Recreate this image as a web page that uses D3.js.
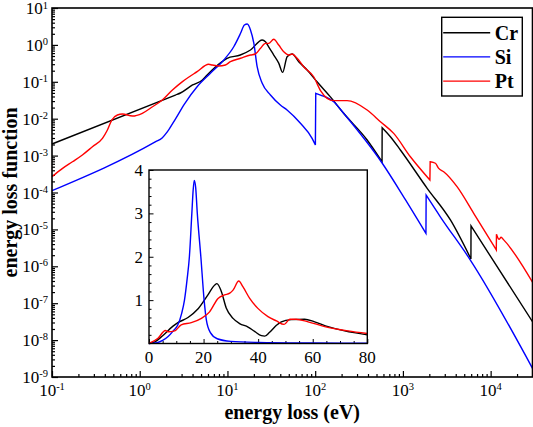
<!DOCTYPE html>
<html>
<head>
<meta charset="utf-8">
<script src="https://cdn.jsdelivr.net/npm/d3@7"></script>
<style>
body { margin: 0; background: #fff; }
text { font-family: "Liberation Serif", "Times New Roman", serif; fill: #000; }
</style>
</head>
<body>
<div id="chart"></div>
<script>
// main panel, log-log (energy in eV, loss function)
const crE = [0.1, 2.55, 2.91, 4.0, 5.18, 5.87, 8.69, 9.91, 14.0, 18.3, 24.9, 27.1, 29.5, 33.7, 38.4, 42.6, 47.9, 54.6, 64.9, 80.9, 105, 149, 211, 391, 578, 580, 720, 936, 1890, 3480, 5960, 5975, 30000];
const crV = [2.06e-3, 0.0438, 0.0497, 0.082, 0.112, 0.153, 0.351, 0.434, 0.532, 0.728, 1.36, 1.22, 0.89, 0.53, 0.32, 0.18, 0.48, 0.566, 0.351, 0.209, 0.1, 0.039, 0.014, 2.65e-3, 6.8e-4, 5.7e-3, 3.25e-3, 1.42e-3, 1.3e-4, 1.8e-5, 1.58e-6, 1.24e-5, 3.16e-8];

const siE = [0.1, 1.52, 1.80, 2.07, 2.55, 3.23, 4.51, 6.39, 9.09, 11.8, 14.1, 15.6, 16.8, 18.3, 20.0, 21.8, 24.9, 30.9, 40.1, 47.8, 67.9, 92.2, 100.5, 101.5, 115, 163, 211, 579, 1067, 1830, 1840, 2670, 5870, 30000];
const siV = [1.12e-4, 2.38e-3, 3.0e-3, 4.45e-3, 9.8e-3, 0.025, 0.0736, 0.17, 0.39, 0.89, 2.06, 3.46, 3.68, 2.54, 1.1, 0.256, 0.091, 0.044, 0.0235, 0.0172, 7.5e-3, 2.94e-3, 1.94e-3, 0.0488, 0.0438, 0.0289, 0.014, 6.3e-4, 6.4e-5, 7.8e-6, 8.5e-5, 2.2e-5, 1.48e-6, 1.72e-9];

const ptE = [0.1, 0.132, 0.171, 0.222, 0.289, 0.376, 0.428, 0.48, 0.557, 0.635, 0.826, 1.07, 1.40, 1.81, 2.36, 3.07, 4.51, 6.11, 6.69, 7.95, 9.48, 10.8, 14.1, 18.3, 20.8, 23.8, 27.1, 29.5, 33.7, 38.4, 43.8, 49.9, 54.6, 62.2, 74.0, 96.2, 115, 137, 163, 231, 391, 554, 785, 1217, 2030, 2045, 2345, 2558, 2916, 4140, 6410, 11600, 11650, 12480, 13150, 14090, 30000];
const ptV = [2.68e-4, 4.5e-4, 6.8e-4, 1.04e-3, 1.74e-3, 2.94e-3, 4.94e-3, 9.2e-3, 0.0126, 0.0134, 0.0118, 0.014, 0.0211, 0.0321, 0.06, 0.101, 0.188, 0.298, 0.285, 0.268, 0.285, 0.351, 0.434, 0.532, 0.566, 0.809, 1.1, 1.1, 1.42, 0.99, 0.654, 0.532, 0.566, 0.434, 0.256, 0.137, 0.058, 0.0357, 0.0308, 0.0308, 0.0172, 8.3e-3, 4.0e-3, 9.3e-4, 2.18e-4, 6.8e-4, 6.2e-4, 4.5e-4, 3.66e-4, 1.44e-4, 2.73e-5, 2.77e-6, 7.4e-6, 5.4e-6, 6.1e-6, 5.2e-6, 3.7e-7];

// inset, linear 0-80 eV
const inCrE = [0, 2, 5, 8.8, 10.6, 14.3, 18, 21.6, 24.1, 24.9, 26.5, 28.3, 30.8, 33.2, 36.3, 38.7, 41.2, 42.4, 44.2, 46.7, 48.5, 52.1, 57, 60.7, 65.6, 71.7, 80];
const inCrV = [0, 0.03, 0.18, 0.4, 0.48, 0.6, 0.8, 1.12, 1.35, 1.38, 1.2, 0.82, 0.58, 0.46, 0.38, 0.28, 0.18, 0.17, 0.26, 0.42, 0.5, 0.55, 0.56, 0.5, 0.39, 0.29, 0.2];

const inSiE = [0, 3, 5, 7, 9, 10.5, 12, 13, 14, 14.8, 15.7, 16.2, 16.6, 17.1, 17.7, 19.0, 20.2, 21, 22.5, 25, 30, 40, 60, 80];
const inSiV = [0, 0.02, 0.07, 0.16, 0.3, 0.42, 0.7, 1.0, 1.5, 2.0, 3.0, 3.55, 3.76, 3.6, 3.0, 2.0, 1.0, 0.55, 0.25, 0.11, 0.05, 0.025, 0.01, 0.005];

const inPtE = [0, 3.3, 6, 7, 9.4, 11.8, 15.5, 19.2, 22.2, 25.3, 27.7, 29.6, 30.8, 32.9, 34.4, 36.9, 39.9, 43.6, 46.7, 49.5, 51.6, 53.9, 58.3, 64.4, 72.9, 80];
const inPtV = [0, 0.12, 0.3, 0.27, 0.29, 0.43, 0.48, 0.58, 0.73, 1.04, 1.12, 1.16, 1.23, 1.44, 1.31, 1.04, 0.81, 0.62, 0.52, 0.44, 0.56, 0.56, 0.5, 0.39, 0.29, 0.23];

const names = ["Cr", "Si", "Pt"];
const colors = ["#000000", "#0000ff", "#ff0000"];

const xMajorExp = [-1, 0, 1, 2, 3, 4];
const yMajorExp = [-9, -8, -7, -6, -5, -4, -3, -2, -1, 0, 1];
const inXTicks = [0, 20, 40, 60, 80];
const inYTicks = [1, 2, 3, 4];

const svgWidth = 533;
const svgHeight = 427;
const margins = { top: 8, right: 0.5, bottom: 50, left: 52 };
const chartWidth = svgWidth - margins.left - margins.right;
const chartHeight = svgHeight - margins.top - margins.bottom;

const svg = d3.select("#chart")
    .append("svg")
    .attr("width", svgWidth)
    .attr("height", svgHeight);

const chartGroup = svg.append("g")
    .attr("transform", `translate(${margins.left}, ${margins.top})`);

const x = d3.scaleLog().domain([0.1, 30000]).range([0, chartWidth]);
const y = d3.scaleLog().domain([1e-9, 10]).range([chartHeight, 0]);

// minor ticks 2..9 in each decade
const xMinor = [];
xMajorExp.forEach(p => { for (let k = 2; k <= 9; k++) { const v = k * Math.pow(10, p); if (v <= 30000) xMinor.push(v); } });
const yMinor = [];
yMajorExp.slice(0, -1).forEach(p => { for (let k = 2; k <= 9; k++) yMinor.push(k * Math.pow(10, p)); });

const xMajor = xMajorExp.map(p => Math.pow(10, p));
const yMajor = yMajorExp.map(p => Math.pow(10, p));

chartGroup.append("g")
    .attr("transform", `translate(0, ${chartHeight})`)
    .call(d3.axisBottom(x).tickValues(xMinor).tickSize(-3).tickFormat(""));
chartGroup.append("g")
    .attr("transform", `translate(0, ${chartHeight})`)
    .call(d3.axisBottom(x).tickValues(xMajor).tickSize(-6).tickFormat(""));
chartGroup.append("g")
    .call(d3.axisLeft(y).tickValues(yMinor).tickSize(-3).tickFormat(""));
chartGroup.append("g")
    .call(d3.axisLeft(y).tickValues(yMajor).tickSize(-6).tickFormat(""));
chartGroup.selectAll(".domain").remove();
chartGroup.selectAll(".tick line").attr("stroke", "#000").attr("stroke-width", 1.2);

// power-of-ten labels
xMajorExp.forEach(p => {
    const t = chartGroup.append("text")
        .attr("x", x(Math.pow(10, p)))
        .attr("y", chartHeight + 19)
        .attr("text-anchor", "middle")
        .attr("font-size", 17);
    t.append("tspan").text("10");
    t.append("tspan").attr("font-size", 10.5).attr("dy", -6).text(p);
});
yMajorExp.forEach(p => {
    const t = chartGroup.append("text")
        .attr("x", -4)
        .attr("y", y(Math.pow(10, p)) + 6)
        .attr("text-anchor", "end")
        .attr("font-size", 17);
    t.append("tspan").text("10");
    t.append("tspan").attr("font-size", 10.5).attr("dy", p === 1 ? -5 : -6).text(p);
});

// curves: smooth between absorption edges, straight across each edge
const mainLine = d3.line()
    .x(d => x(d[0]))
    .y(d => y(d[1]))
    .curve(d3.curveMonotoneX);

function edgePath(pts) {
    const pieces = [[pts[0]]];
    for (let i = 1; i < pts.length; i++) {
        if (pts[i][0] / pts[i - 1][0] < 1.01) pieces.push([]);
        pieces[pieces.length - 1].push(pts[i]);
    }
    return pieces.map((p, i) => {
        const d = mainLine(p);
        return i === 0 ? d : "L" + d.slice(1);
    }).join("");
}

const mainSeries = [
    d3.zip(crE, crV),
    d3.zip(siE, siV),
    d3.zip(ptE, ptV)
];

chartGroup.selectAll(".curve")
    .data(mainSeries)
    .enter()
    .append("path")
    .attr("class", "curve")
    .attr("d", edgePath)
    .attr("fill", "none")
    .attr("stroke", (d, i) => colors[i])
    .attr("stroke-width", 1.4);

// frame
chartGroup.append("rect")
    .attr("width", chartWidth)
    .attr("height", chartHeight)
    .attr("fill", "none")
    .attr("stroke", "#000")
    .attr("stroke-width", 1.6);

// axis titles
svg.append("text")
    .attr("x", margins.left + chartWidth / 2)
    .attr("y", 419)
    .attr("text-anchor", "middle")
    .attr("font-size", 20)
    .attr("font-weight", "bold")
    .text("energy loss (eV)");

svg.append("text")
    .attr("transform", `translate(17, ${margins.top + chartHeight / 2}) rotate(-90)`)
    .attr("text-anchor", "middle")
    .attr("font-size", 20)
    .attr("font-weight", "bold")
    .text("energy loss function");

// legend
const legend = chartGroup.append("g")
    .attr("transform", `translate(${441.7 - margins.left}, ${17.3 - margins.top})`);
legend.append("rect")
    .attr("width", 80.6)
    .attr("height", 78.7)
    .attr("fill", "#fff")
    .attr("stroke", "#000")
    .attr("stroke-width", 1.4);
names.forEach((n, i) => {
    const ly = 15.4 + i * 24.2;
    legend.append("line")
        .attr("x1", 1.5).attr("x2", 48.5)
        .attr("y1", ly).attr("y2", ly)
        .attr("stroke", colors[i])
        .attr("stroke-width", 1.4);
    legend.append("text")
        .attr("x", 53)
        .attr("y", ly + 7)
        .attr("font-size", 20)
        .attr("font-weight", "bold")
        .text(n);
});

// inset
const inset = { left: 149, top: 170, width: 218.3, height: 173.5 };
const insetGroup = svg.append("g")
    .attr("transform", `translate(${inset.left}, ${inset.top})`);

const xi = d3.scaleLinear().domain([0, 80]).range([0, inset.width]);
const yi = d3.scaleLinear().domain([0, 4]).range([inset.height, 0]);

insetGroup.append("rect")
    .attr("width", inset.width)
    .attr("height", inset.height)
    .attr("fill", "#fff");

insetGroup.append("g")
    .attr("transform", `translate(0, ${inset.height})`)
    .call(d3.axisBottom(xi).tickValues(d3.range(5, 80, 5).filter(v => v % 20)).tickSize(-2.5).tickFormat(""));
insetGroup.append("g")
    .attr("transform", `translate(0, ${inset.height})`)
    .call(d3.axisBottom(xi).tickValues(inXTicks).tickSize(-4.5).tickFormat(""));
insetGroup.append("g")
    .call(d3.axisLeft(yi).tickValues(d3.range(1, 20).map(k => k * 0.2).filter(v => Math.abs(v - Math.round(v)) > 0.01)).tickSize(-2.5).tickFormat(""));
insetGroup.append("g")
    .call(d3.axisLeft(yi).tickValues(inYTicks).tickSize(-4.5).tickFormat(""));
insetGroup.selectAll(".domain").remove();
insetGroup.selectAll(".tick line").attr("stroke", "#000").attr("stroke-width", 1);

insetGroup.selectAll(".xlab")
    .data(inXTicks)
    .enter()
    .append("text")
    .attr("x", d => xi(d))
    .attr("y", inset.height + 19)
    .attr("text-anchor", "middle")
    .attr("font-size", 17)
    .text(d => d);

insetGroup.selectAll(".ylab")
    .data(inYTicks)
    .enter()
    .append("text")
    .attr("x", -6)
    .attr("y", d => yi(d) + 6)
    .attr("text-anchor", "end")
    .attr("font-size", 17)
    .text(d => d);

const insetLine = d3.line()
    .x(d => xi(d[0]))
    .y(d => yi(d[1]))
    .curve(d3.curveMonotoneX);

const insetSeries = [
    d3.zip(inCrE, inCrV),
    d3.zip(inSiE, inSiV),
    d3.zip(inPtE, inPtV)
];

insetGroup.selectAll(".icurve")
    .data(insetSeries)
    .enter()
    .append("path")
    .attr("class", "icurve")
    .attr("d", insetLine)
    .attr("fill", "none")
    .attr("stroke", (d, i) => colors[i])
    .attr("stroke-width", 1.4);

insetGroup.append("rect")
    .attr("width", inset.width)
    .attr("height", inset.height)
    .attr("fill", "none")
    .attr("stroke", "#000")
    .attr("stroke-width", 1.4);
</script>
</body>
</html>
